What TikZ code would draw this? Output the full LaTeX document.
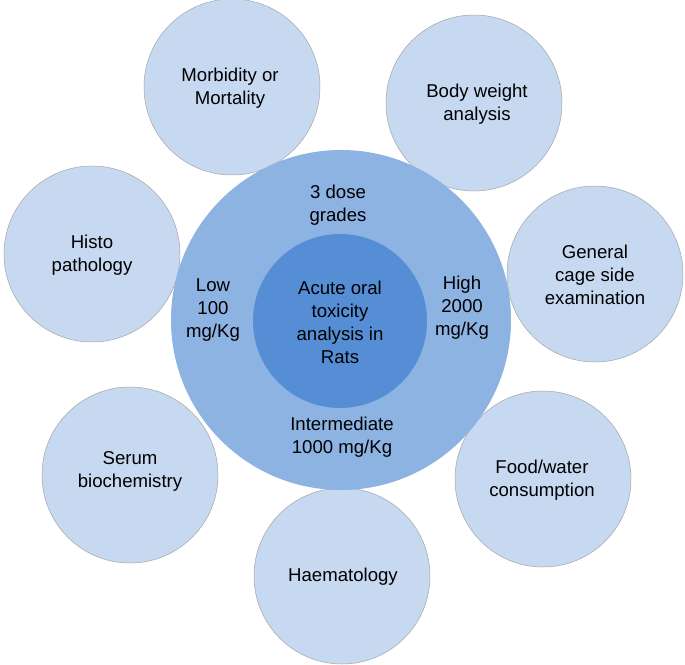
\documentclass[tikz,border=0pt]{standalone}
\usepackage{fontspec}
\setmainfont{Liberation Sans}
\newfontfamily\lsans{Liberation Sans}
\definecolor{outerfill}{HTML}{C6D9F0}
\definecolor{ringfill}{HTML}{8DB3E2}
\definecolor{corefill}{HTML}{558ED5}
\definecolor{edgegray}{HTML}{A6A6A6}
\begin{document}
\begin{tikzpicture}[x=1pt,y=-1pt,
  txt/.style={align=center,font=\lsans\fontsize{18.6}{23}\selectfont,text=black,inner sep=0pt},
  satellite/.style={circle,fill=outerfill,draw=edgegray,line width=0.5pt,minimum size=176pt,inner sep=0pt},
  ringcircle/.style={circle,fill=ringfill,minimum size=340pt,inner sep=0pt},
  corecircle/.style={circle,fill=corefill,minimum size=174pt,inner sep=0pt}]
\useasboundingbox (0,0) rectangle (685,664);
\fill[white] (0,0) rectangle (685,664);
% satellites
\node[satellite] (morb) at (232,87) {};
\node[satellite] (body) at (474,103) {};
\node[satellite] (histo) at (92,254) {};
\node[satellite] (cage) at (595,274) {};
\node[satellite] (serum) at (130,475) {};
\node[satellite] (food) at (543,479) {};
\node[satellite] (haem) at (342,576) {};
% centre
\node[ringcircle] (ring) at (341,320) {};
\node[corecircle] (core) at (340,321) {};
% texts
\node[txt] (tmorb) at (230,88) {Morbidity or\\Mortality};
\node[txt] (tbody) at (477,104) {Body weight\\analysis};
\node[txt] (thisto) at (92,255) {Histo\\pathology};
\node[txt] (tcage) at (595,275) {General\\cage side\\examination};
\node[txt] (tserum) at (130,471) {Serum\\biochemistry};
\node[txt] (tfood) at (542,480) {Food/water\\consumption};
\node[txt] (thaem) at (343,577) {Haematology};
\node[txt] (tdose) at (338,205) {3 dose\\grades};
\node[txt] (tlow) at (213,310) {Low\\100\\mg/Kg};
\node[txt] (thigh) at (462,308) {High\\2000\\mg/Kg};
\node[txt] (tcore) at (340,322) {Acute oral\\toxicity\\analysis in\\Rats};
\node[txt] (tint) at (342,437) {Intermediate\\1000 mg/Kg};
\end{tikzpicture}
\end{document}
